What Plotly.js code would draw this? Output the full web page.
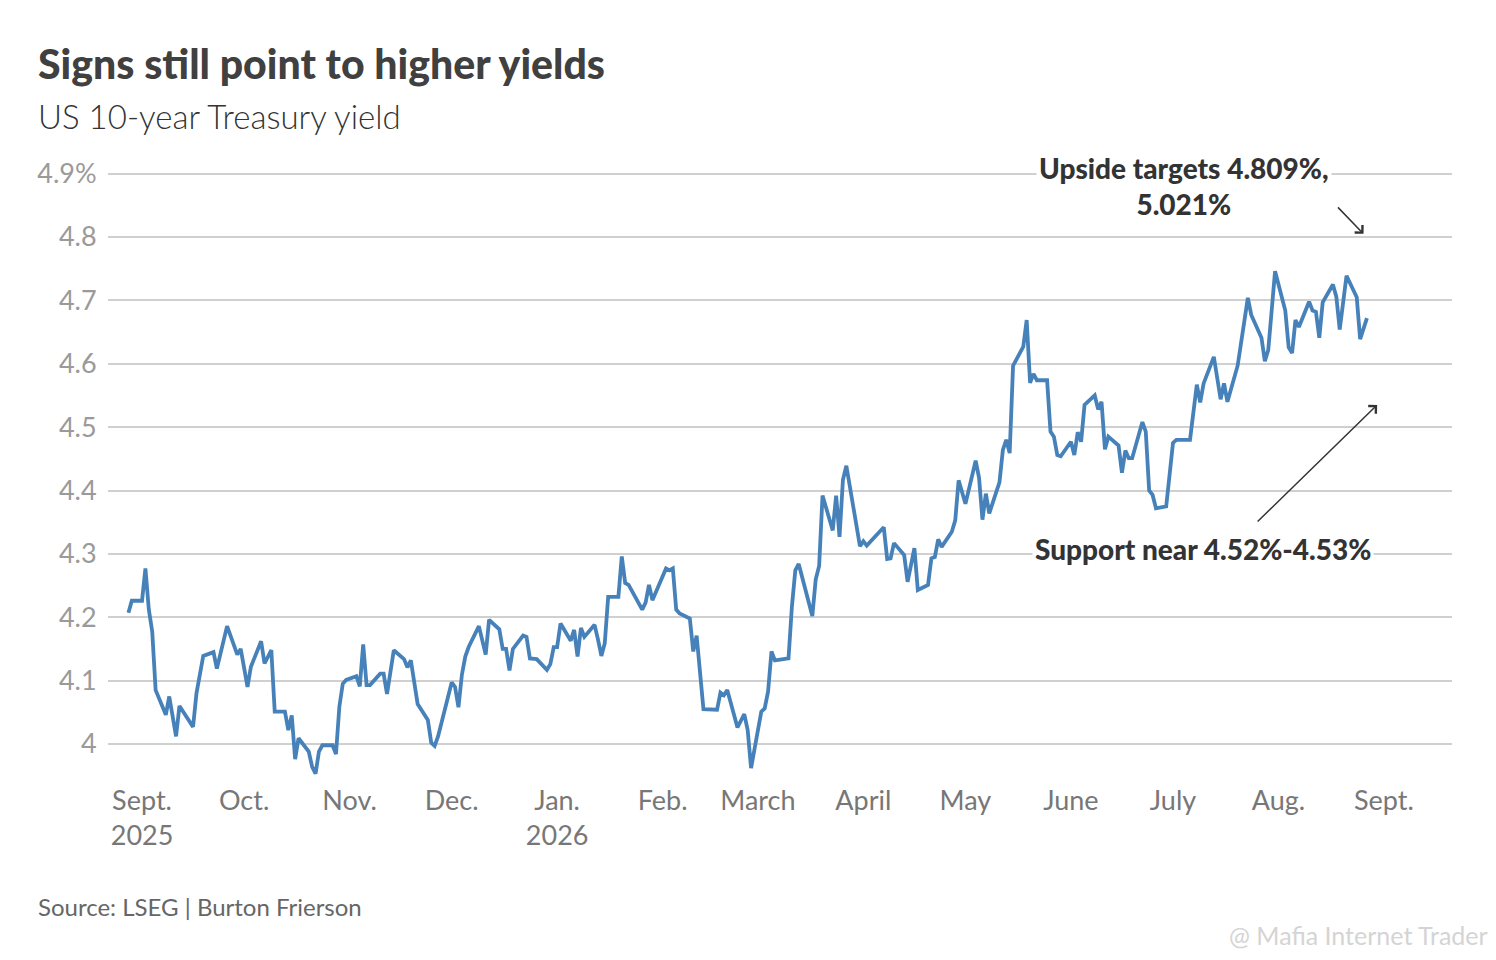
<!DOCTYPE html>
<html>
<head>
<meta charset="utf-8">
<script src="https://cdn.plot.ly/plotly-3.0.1.min.js"></script>
<style>html,body{margin:0;padding:0;background:#fff;}#chart{width:1496px;height:960px;}</style>
</head>
<body>
<div id="chart"></div>
<script>
// ---- Data: US 10-year Treasury yield (%) ----
const dates = [
'2025-08-28','2025-08-29','2025-09-01','2025-09-02','2025-09-03','2025-09-04','2025-09-05','2025-09-08','2025-09-09','2025-09-11',
'2025-09-12','2025-09-16','2025-09-17','2025-09-19','2025-09-22','2025-09-23','2025-09-26','2025-09-29','2025-09-30','2025-10-02',
'2025-10-03','2025-10-06','2025-10-07','2025-10-09','2025-10-10','2025-10-13','2025-10-14','2025-10-15','2025-10-16','2025-10-17',
'2025-10-20','2025-10-21','2025-10-22','2025-10-23','2025-10-24','2025-10-27','2025-10-28','2025-10-29','2025-10-30','2025-10-31',
'2025-11-03','2025-11-04','2025-11-05','2025-11-06','2025-11-07','2025-11-10','2025-11-11','2025-11-12','2025-11-14','2025-11-17',
'2025-11-18','2025-11-19','2025-11-21','2025-11-24','2025-11-25','2025-11-26','2025-11-27','2025-12-01','2025-12-02','2025-12-03',
'2025-12-04','2025-12-05','2025-12-06','2025-12-09','2025-12-11','2025-12-12','2025-12-15','2025-12-16','2025-12-17','2025-12-18',
'2025-12-19','2025-12-22','2025-12-23','2025-12-24','2025-12-26','2025-12-29','2025-12-30','2025-12-31','2026-01-01','2026-01-02',
'2026-01-05','2026-01-06','2026-01-07','2026-01-08','2026-01-09','2026-01-12','2026-01-13','2026-01-14','2026-01-15','2026-01-16',
'2026-01-19','2026-01-20','2026-01-21','2026-01-22','2026-01-26','2026-01-27','2026-01-28','2026-01-29','2026-02-02','2026-02-03',
'2026-02-04','2026-02-05','2026-02-06','2026-02-09','2026-02-10','2026-02-11','2026-02-13','2026-02-17','2026-02-18','2026-02-19',
'2026-02-20','2026-02-23','2026-02-25','2026-02-26','2026-02-27','2026-03-02','2026-03-03','2026-03-04','2026-03-05','2026-03-06',
'2026-03-10','2026-03-11','2026-03-12','2026-03-13','2026-03-17','2026-03-18','2026-03-19','2026-03-20','2026-03-23','2026-03-24',
'2026-03-25','2026-03-26','2026-03-27','2026-03-31','2026-04-01','2026-04-02','2026-04-07','2026-04-08','2026-04-09','2026-04-10',
'2026-04-13','2026-04-14','2026-04-16','2026-04-17','2026-04-20','2026-04-21','2026-04-22','2026-04-23','2026-04-24','2026-04-27',
'2026-04-28','2026-04-29','2026-05-01','2026-05-04','2026-05-05','2026-05-06','2026-05-07','2026-05-08','2026-05-11','2026-05-12',
'2026-05-13','2026-05-14','2026-05-15','2026-05-17','2026-05-18','2026-05-19','2026-05-20','2026-05-21','2026-05-22','2026-05-25',
'2026-05-26','2026-05-27','2026-05-28','2026-05-29','2026-06-01','2026-06-02','2026-06-03','2026-06-04','2026-06-05','2026-06-08',
'2026-06-09','2026-06-10','2026-06-11','2026-06-12','2026-06-15','2026-06-16','2026-06-17','2026-06-18','2026-06-19','2026-06-22',
'2026-06-23','2026-06-24','2026-06-25','2026-06-26','2026-06-29','2026-07-01','2026-07-02','2026-07-06','2026-07-07','2026-07-08',
'2026-07-09','2026-07-10','2026-07-13','2026-07-15','2026-07-16','2026-07-17','2026-07-20','2026-07-23','2026-07-24','2026-07-27',
'2026-07-28','2026-07-29','2026-07-31','2026-08-03','2026-08-04','2026-08-05','2026-08-06','2026-08-07','2026-08-10','2026-08-11',
'2026-08-12','2026-08-13','2026-08-14','2026-08-17','2026-08-18','2026-08-19','2026-08-21','2026-08-24','2026-08-25','2026-08-26',
'2026-08-27'
];
const yields = [
4.207,4.226,4.226,4.277,4.212,4.177,4.085,4.046,4.075,4.012,
4.060,4.027,4.080,4.139,4.145,4.119,4.186,4.141,4.150,4.090,
4.122,4.162,4.127,4.148,4.051,4.051,4.022,4.045,3.976,4.009,
3.988,3.964,3.953,3.988,3.998,3.998,3.984,4.059,4.095,4.101,
4.107,4.091,4.157,4.093,4.093,4.111,4.111,4.079,4.148,4.134,
4.121,4.132,4.063,4.038,4.002,3.997,4.012,4.097,4.090,4.058,
4.109,4.138,4.153,4.186,4.141,4.196,4.181,4.150,4.150,4.116,
4.150,4.171,4.169,4.135,4.134,4.117,4.126,4.153,4.153,4.190,
4.163,4.180,4.138,4.183,4.169,4.188,4.165,4.139,4.159,4.232,
4.232,4.296,4.254,4.251,4.212,4.223,4.251,4.227,4.277,4.274,
4.277,4.212,4.206,4.198,4.146,4.171,4.055,4.054,4.081,4.077,
4.085,4.026,4.047,4.022,3.962,4.051,4.056,4.083,4.146,4.132,
4.135,4.217,4.274,4.284,4.202,4.260,4.281,4.392,4.337,4.392,
4.327,4.417,4.439,4.312,4.320,4.313,4.342,4.292,4.293,4.317,
4.298,4.256,4.309,4.243,4.251,4.293,4.295,4.323,4.311,4.335,
4.353,4.416,4.379,4.447,4.420,4.354,4.395,4.364,4.413,4.464,
4.480,4.459,4.597,4.619,4.627,4.669,4.570,4.584,4.574,4.574,
4.493,4.485,4.456,4.454,4.477,4.456,4.492,4.477,4.535,4.550,
4.528,4.540,4.465,4.485,4.471,4.428,4.463,4.451,4.451,4.508,
4.493,4.400,4.393,4.372,4.375,4.475,4.480,4.480,4.527,4.567,
4.539,4.569,4.611,4.544,4.569,4.540,4.597,4.704,4.677,4.641,
4.604,4.622,4.746,4.684,4.626,4.617,4.669,4.658,4.698,4.684,
4.682,4.641,4.697,4.725,4.706,4.654,4.739,4.705,4.639,4.658,
4.672
];

// ---- Tick labels ----
const xTickVals = ['2025-09-01','2025-10-01','2025-11-01','2025-12-01','2026-01-01','2026-02-01','2026-03-01','2026-04-01','2026-05-01','2026-06-01','2026-07-01','2026-08-01','2026-09-01'];
const xTickText = ['Sept.<br>2025','Oct.','Nov.','Dec.','Jan.<br>2026','Feb.','March','April','May','June','July','Aug.','Sept.'];
const yTickVals = [4.0,4.1,4.2,4.3,4.4,4.5,4.6,4.7,4.8,4.9];
const yTickText = ['4','4.1','4.2','4.3','4.4','4.5','4.6','4.7','4.8','4.9%'];

// ---- Text ----
const titleText = 'Signs still point to higher yields';
const subtitleText = 'US 10-year Treasury yield';
const sourceText = 'Source: LSEG | Burton Frierson';
const upsideText = 'Upside targets 4.809%,<br>5.021%';
const supportText = 'Support near 4.52%-4.53%';
const watermarkText = '@ Mafia Internet Trader';
// arrow targets (date, yield level)
const upsideTip = ['2026-08-26', 4.805];
const supportTip = ['2026-08-30', 4.535];

const FONT = 'Lato, "Open Sans", sans-serif';
const lineColor = '#4682b9';

const trace = {
  x: dates, y: yields, type: 'scatter', mode: 'lines',
  line: {color: lineColor, width: 3.8, shape: 'linear'},
  hoverinfo: 'skip'
};

const layout = {
  width: 1496, height: 960,
  margin: {l: 108, r: 44, t: 161, b: 178},
  paper_bgcolor: '#ffffff', plot_bgcolor: '#ffffff',
  showlegend: false,
  font: {family: FONT, color: '#333'},
  xaxis: {
    type: 'date', range: ['2025-08-22', '2026-09-21'],
    tickvals: xTickVals, ticktext: xTickText,
    showgrid: false, zeroline: false, showline: false,
    ticks: '', ticklen: 0,
    tickfont: {family: FONT, size: 27, color: '#777777'}
  },
  yaxis: {
    range: [3.94, 4.92],
    tickvals: yTickVals, ticktext: yTickText,
    showgrid: true, gridcolor: '#d0d0d0', gridwidth: 2,
    zeroline: false, showline: false,
    ticks: 'outside', ticklen: 5, tickcolor: 'rgba(0,0,0,0)',
    tickfont: {family: FONT, size: 27, color: '#9a9a9a'}
  },
  annotations: [
    {xref: 'paper', yref: 'paper', x: -0.0536, y: 1.1562, xanchor: 'left', yanchor: 'middle',
     text: titleText, showarrow: false,
     font: {family: FONT, size: 41, color: '#404040', weight: 900}},
    {xref: 'paper', yref: 'paper', x: -0.0536, y: 1.0725, xanchor: 'left', yanchor: 'middle',
     text: subtitleText, showarrow: false,
     font: {family: FONT, size: 33, color: '#333333', weight: 300}},
    {xref: 'paper', yref: 'paper', x: -0.0536, y: -0.1997, xanchor: 'left', yanchor: 'middle',
     text: sourceText, showarrow: false,
     font: {family: FONT, size: 24, color: '#666666'}},
    {xref: 'paper', yref: 'paper', x: 0.8326, y: -0.2464, xanchor: 'left', yanchor: 'middle',
     text: watermarkText, showarrow: false,
     font: {family: FONT, size: 25, color: '#d4d4d4'}},
    {xref: 'paper', yref: 'paper', x: 0.8006, y: 0.960, xanchor: 'center', yanchor: 'middle',
     text: upsideText, showarrow: false, align: 'center',
     bgcolor: '#ffffff', borderpad: 2,
     font: {family: FONT, size: 28, color: '#333333', weight: 900}},
    {xref: 'paper', yref: 'paper', x: 0.8151, y: 0.3752, xanchor: 'center', yanchor: 'middle',
     text: supportText, showarrow: false,
     bgcolor: '#ffffff', borderpad: 2,
     font: {family: FONT, size: 28, color: '#333333', weight: 900}},
    {xref: 'x', yref: 'y', x: upsideTip[0], y: upsideTip[1], text: '',
     showarrow: true, arrowhead: 4, arrowsize: 1.4, arrowwidth: 1.5, arrowcolor: '#333333',
     ax: -27, ay: -28, standoff: 0},
    {xref: 'x', yref: 'y', x: supportTip[0], y: supportTip[1], text: '',
     showarrow: true, arrowhead: 4, arrowsize: 1.4, arrowwidth: 1.5, arrowcolor: '#333333',
     ax: -121, ay: 118, standoff: 0}
  ]
};

Plotly.newPlot('chart', [trace], layout, {staticPlot: true, displayModeBar: false});
</script>
</body>
</html>
